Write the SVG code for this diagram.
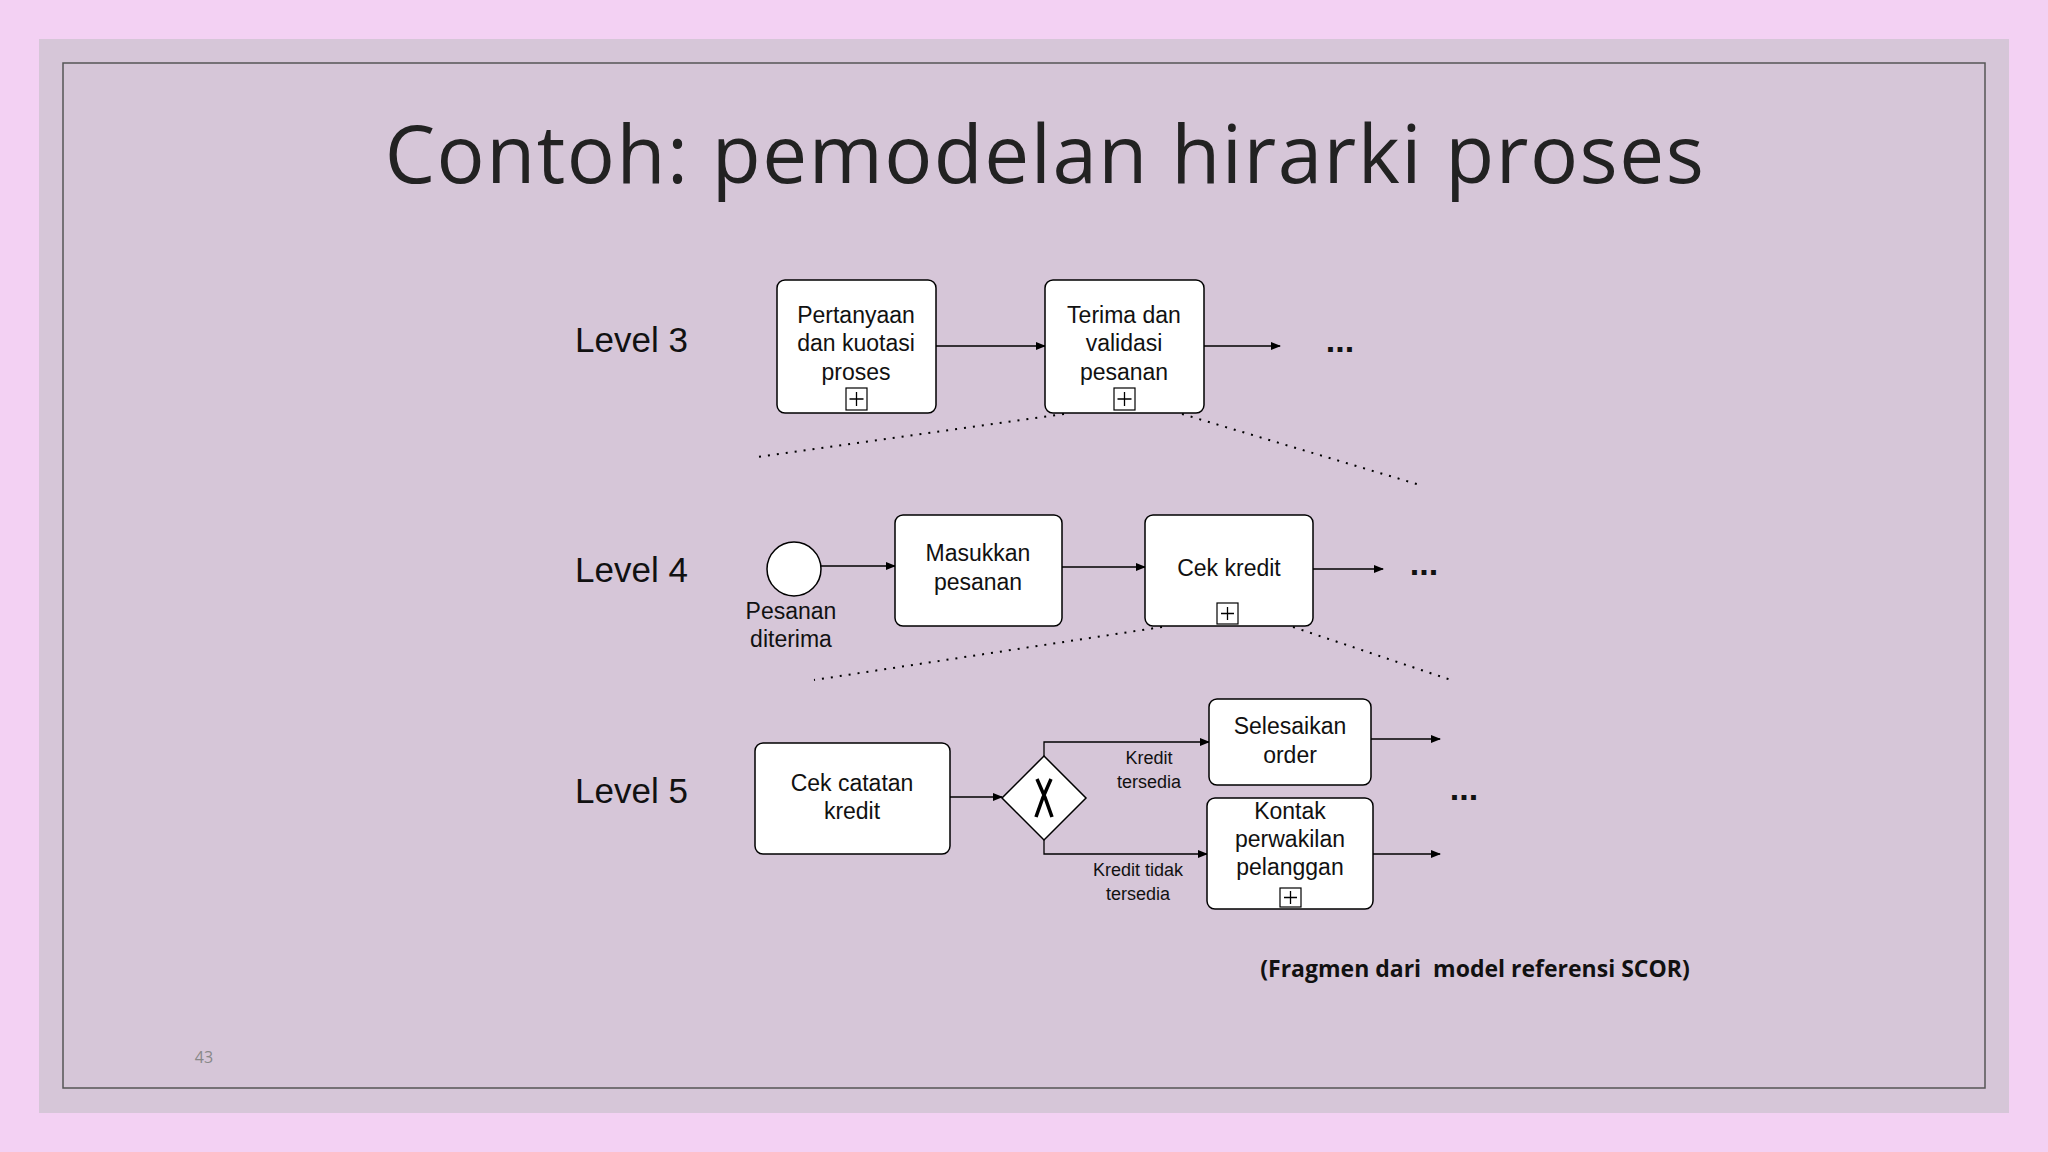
<svg xmlns="http://www.w3.org/2000/svg" width="2048" height="1152" viewBox="0 0 2048 1152">
<defs>
<marker id="ah" markerWidth="10" markerHeight="8" refX="9" refY="4" orient="auto" markerUnits="userSpaceOnUse"><path d="M0,0 L10,4 L0,8 z" fill="#000"/></marker>
</defs>
<style>
.box{fill:#fff;stroke:#000;stroke-width:1.5}
.t{font-family:"Liberation Sans",Arial,sans-serif;font-size:23px;fill:#111;text-anchor:middle}
.lv{font-family:"Liberation Sans",Arial,sans-serif;font-size:35px;fill:#111}
.sm{font-family:"Liberation Sans",Arial,sans-serif;font-size:18px;fill:#111;text-anchor:middle}
.dots{font-family:"Liberation Sans",Arial,sans-serif;font-size:34px;font-weight:bold;fill:#111;text-anchor:middle}
.c{stroke:#000;stroke-width:1.3;fill:none;marker-end:url(#ah)}
.dl{stroke:#000;stroke-width:2;fill:none;stroke-dasharray:2,7}
.pl{fill:#fff;stroke:#000;stroke-width:1.2}
</style>
<rect width="2048" height="1152" fill="#F3D1F3"/>
<rect x="39" y="39" width="1970" height="1074" fill="#D6C6D8"/>
<rect x="63" y="63" width="1922" height="1025" fill="none" stroke="#555" stroke-width="1.5"/>
<text x="1045" y="183" font-family="'Open Sans','Noto Sans',sans-serif" font-size="80" letter-spacing="1.5" fill="#222" text-anchor="middle">Contoh: pemodelan hirarki proses</text>
<text class="lv" x="575" y="352">Level 3</text>
<text class="lv" x="575" y="582">Level 4</text>
<text class="lv" x="575" y="803">Level 5</text>
<g id="connectors">
<line class="c" x1="936" y1="346" x2="1045" y2="346"/>
<line class="c" x1="1204" y1="346" x2="1280" y2="346"/>
<line class="c" x1="821" y1="566" x2="895" y2="566" stroke-width="2.2"/>
<line class="c" x1="1062" y1="567" x2="1145" y2="567" stroke-width="2.2"/>
<line class="c" x1="1313" y1="569" x2="1383" y2="569"/>
<line class="c" x1="950" y1="797" x2="1002" y2="797" stroke-width="2.2"/>
<polyline class="c" points="1044,756 1044,742 1209,742"/>
<polyline class="c" points="1044,840 1044,854 1207,854"/>
<line class="c" x1="1371" y1="739" x2="1440" y2="739" stroke-width="2.2"/>
<line class="c" x1="1373" y1="854" x2="1440" y2="854"/>
<line class="dl" x1="1064" y1="414" x2="758" y2="457"/>
<line class="dl" x1="1182" y1="414" x2="1420" y2="485"/>
<line class="dl" x1="1162" y1="627" x2="814" y2="680"/>
<line class="dl" x1="1293" y1="627" x2="1451" y2="680"/>
</g>
<g id="n1"><rect class="box" x="777" y="280" width="159" height="133" rx="8"/>
<text class="t" x="856" y="323">Pertanyaan</text><text class="t" x="856" y="351">dan kuotasi</text><text class="t" x="856" y="380">proses</text>
<rect class="pl" x="846" y="388" width="21" height="22"/><path d="M856.5,392v14M849.5,399h14" stroke="#000" stroke-width="1.3"/></g>
<g id="n2"><rect class="box" x="1045" y="280" width="159" height="133" rx="8"/>
<text class="t" x="1124" y="323">Terima dan</text><text class="t" x="1124" y="351">validasi</text><text class="t" x="1124" y="380">pesanan</text>
<rect class="pl" x="1114" y="388" width="21" height="22"/><path d="M1124.5,392v14M1117.5,399h14" stroke="#000" stroke-width="1.3"/></g>
<text class="dots" x="1340" y="352">...</text>
<g id="start"><circle cx="794" cy="569" r="27" fill="#fff" stroke="#000" stroke-width="1.5"/>
<text class="t" x="791" y="619">Pesanan</text><text class="t" x="791" y="647">diterima</text></g>
<g id="n3"><rect class="box" x="895" y="515" width="167" height="111" rx="8"/>
<text class="t" x="978" y="561">Masukkan</text><text class="t" x="978" y="590">pesanan</text></g>
<g id="n4"><rect class="box" x="1145" y="515" width="168" height="111" rx="8"/>
<text class="t" x="1229" y="576">Cek kredit</text>
<rect class="pl" x="1217" y="603" width="21" height="21"/><path d="M1227.5,607v13M1221,613.5h13" stroke="#000" stroke-width="1.3"/></g>
<text class="dots" x="1424" y="575">...</text>
<g id="n5"><rect class="box" x="755" y="743" width="195" height="111" rx="8"/>
<text class="t" x="852" y="791">Cek catatan</text><text class="t" x="852" y="819">kredit</text></g>
<g id="gw"><path d="M1044,756 L1086,798 L1044,840 L1002,798 z" fill="#fff" stroke="#000" stroke-width="1.5"/>
<path d="M1037,779 Q1046,798 1052,817 M1051,779 Q1042,798 1036,817" stroke="#000" stroke-width="3.5" fill="none"/></g>
<text class="sm" x="1149" y="764">Kredit</text><text class="sm" x="1149" y="788">tersedia</text>
<text class="sm" x="1138" y="876">Kredit tidak</text><text class="sm" x="1138" y="900">tersedia</text>
<g id="n6"><rect class="box" x="1209" y="699" width="162" height="86" rx="8"/>
<text class="t" x="1290" y="734">Selesaikan</text><text class="t" x="1290" y="763">order</text></g>
<g id="n7"><rect class="box" x="1207" y="798" width="166" height="111" rx="8"/>
<text class="t" x="1290" y="819">Kontak</text><text class="t" x="1290" y="847">perwakilan</text><text class="t" x="1290" y="875">pelanggan</text>
<rect class="pl" x="1280" y="888" width="21" height="19"/><path d="M1290.5,891v13M1284,897.5h13" stroke="#000" stroke-width="1.3"/></g>
<text class="dots" x="1464" y="800">...</text>
<text x="1475" y="977" font-family="'Open Sans','Noto Sans',sans-serif" font-size="23" font-weight="bold" fill="#111" text-anchor="middle" xml:space="preserve">(Fragmen dari  model referensi SCOR)</text>
<text x="204" y="1063" font-family="'Open Sans',sans-serif" font-size="16" fill="#888" text-anchor="middle">43</text>
</svg>
